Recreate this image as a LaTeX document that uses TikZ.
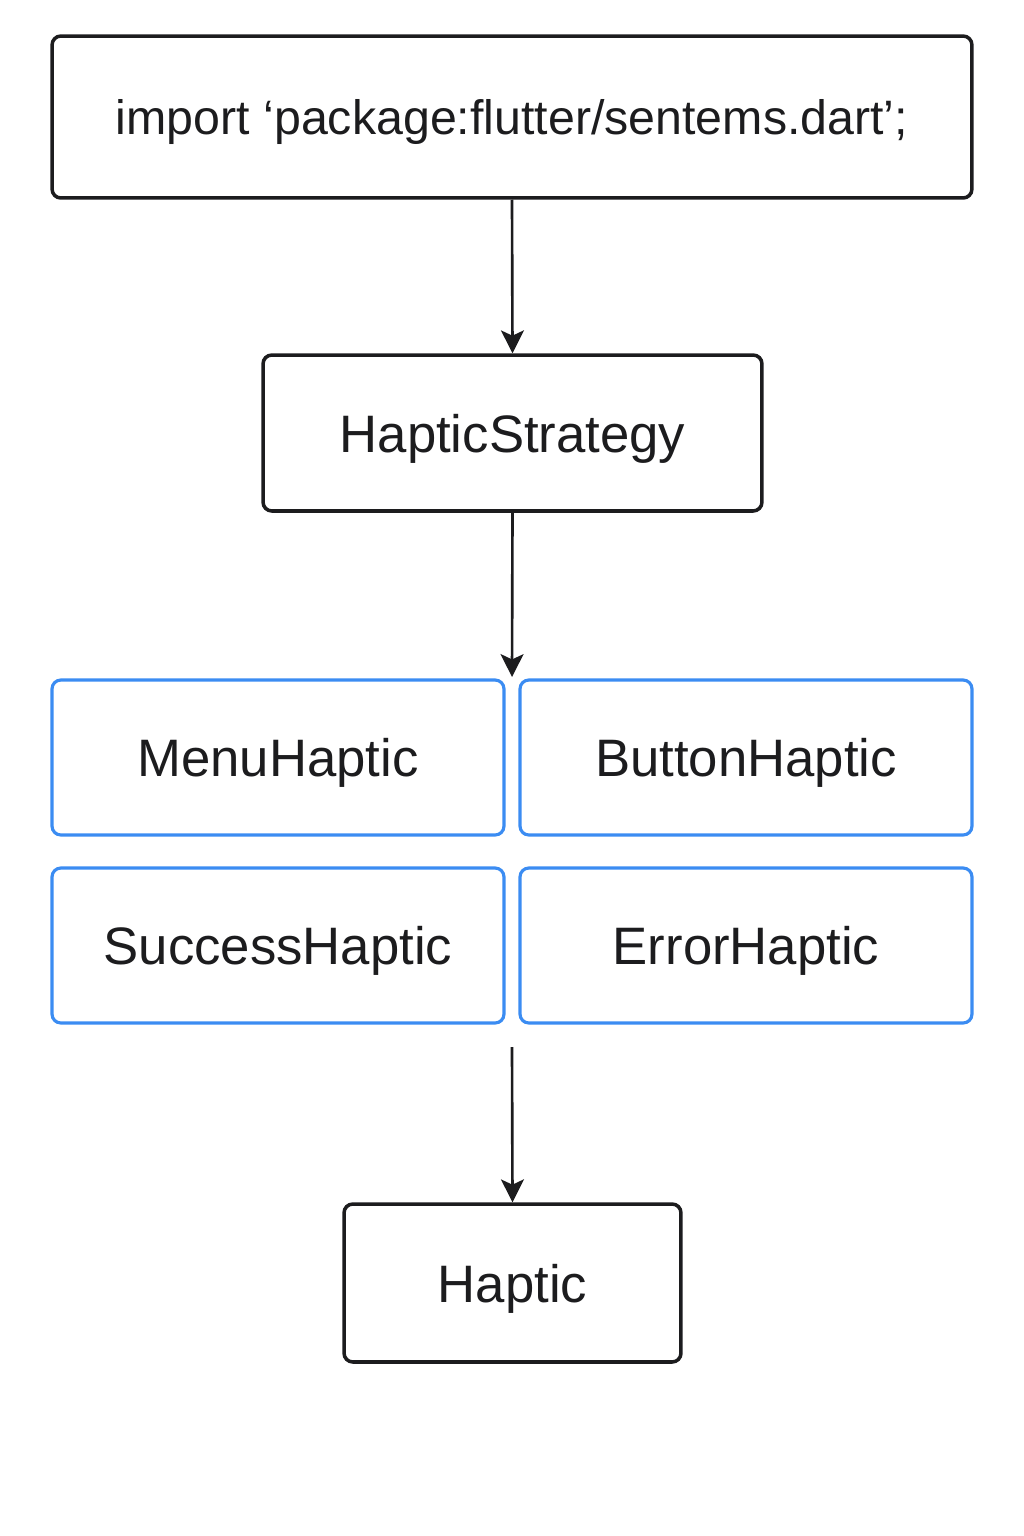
\documentclass[tikz,border=0pt]{standalone}
\usepackage{fontspec}
\setmainfont{Liberation Sans}
\usepackage{xcolor}
\usetikzlibrary{arrows.meta}
\definecolor{inkdark}{HTML}{1C1C1E}
\definecolor{boxblue}{HTML}{3B8CF2}
\tikzset{>={Stealth[length=13pt,width=13pt,inset=3pt]}}
\tikzset{
    codebox/.style={draw=inkdark,line width=2pt,rounded corners=5pt,inner sep=0pt,
        text=inkdark,text depth=0pt,font=\fontsize{27.5}{32}\selectfont},
    classbox/.style={draw=inkdark,line width=2pt,rounded corners=5pt,inner sep=0pt,
        text=inkdark,text depth=0pt,font=\fontsize{30}{34}\selectfont},
    kindbox/.style={draw=boxblue,line width=1.8pt,rounded corners=5pt,inner sep=0pt,
        text=inkdark,text depth=0pt,font=\fontsize{30}{34}\selectfont},
    flow/.style={->,draw=inkdark,line width=1.5pt}
}

\begin{document}
\begin{tikzpicture}[x=0.02cm,y=-0.02cm]
        \useasboundingbox (0,0) rectangle (1024,1536);
        % top import line
        \node[codebox,minimum width=18.4cm,minimum height=3.24cm] (imp) at (512,117) {import ‘package:flutter/sentems.dart’;};
        \node[classbox,minimum width=9.98cm,minimum height=3.12cm] (strat) at (512.5,433) {HapticStrategy};
        % the four kinds
        \node[kindbox,minimum width=9.04cm,minimum height=3.1cm] (menu) at (278,757.5) {MenuHaptic};
        \node[kindbox,minimum width=9.04cm,minimum height=3.1cm] (button) at (746,757.5) {ButtonHaptic};
        \node[kindbox,minimum width=9.04cm,minimum height=3.1cm] (success) at (278,945.5) {SuccessHaptic};
        \node[kindbox,minimum width=9.04cm,minimum height=3.1cm] (error) at (746,945.5) {ErrorHaptic};
        \node[classbox,minimum width=6.74cm,minimum height=3.16cm] (haptic) at (512.5,1283) {Haptic};
        \coordinate (gridtop) at (512,677);
        \coordinate (gridout) at (512,1047);
        \draw[flow] (imp.south) -- (strat.north);
        \draw[flow] (strat.south) -- (gridtop);
        \draw[flow] (gridout) -- (haptic.north);
    \end{tikzpicture}
\end{document}
